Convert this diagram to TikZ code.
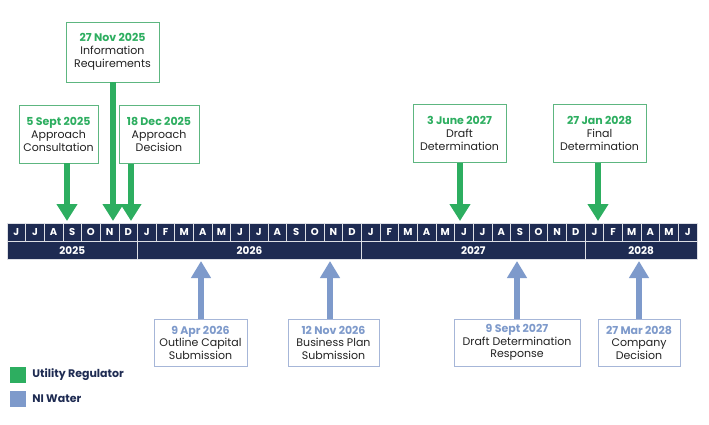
\documentclass[tikz,border=0pt]{standalone}
\usepackage{fontspec}
\setmainfont{Poppins}
\usepackage{xcolor}
\usepackage{tikz}
\usetikzlibrary{arrows.meta, positioning}

\definecolor{navy}{HTML}{1E2B52}
\definecolor{urgreen}{HTML}{2DAE60}
\definecolor{urline}{HTML}{5DB680}
\definecolor{niblue}{HTML}{7E9ACB}
\definecolor{niline}{HTML}{A6B6D8}
\definecolor{boxtext}{HTML}{222222}

\newcommand{\urdate}[1]{\textcolor{urgreen}{\textbf{#1}}}
\newcommand{\niwdate}[1]{\textcolor{niblue}{\textbf{#1}}}

\begin{document}
\begin{tikzpicture}[
    x=1pt, y=-1pt,
    box/.style={rectangle, draw, line width=0.9pt, fill=white,
                align=center, inner sep=0pt, text=boxtext,
                font=\fontsize{11}{13}\selectfont},
    urbox/.style={box, draw=urline, minimum height=58pt},
    nibox/.style={box, draw=niline, minimum height=47pt,
                  font=\fontsize{11}{12.5}\selectfont},
    month/.style={rectangle, fill=navy, draw=white!85!navy, line width=0.8pt,
                  minimum width=18.65pt, minimum height=18.5pt, inner sep=0pt,
                  text=white, font=\fontsize{10}{10}\selectfont\bfseries},
    year/.style={month, font=\fontsize{10.5}{10.5}\selectfont\bfseries},
    urarrow/.style={-{Triangle[width=20pt,length=17pt]}, line width=6.5pt, urgreen},
    niarrow/.style={-{Triangle[width=19pt,length=17pt]}, line width=6.5pt, niblue},
    legendsq/.style={rectangle, minimum size=16pt, inner sep=0pt},
    legendlab/.style={inner sep=0pt, text=navy, font=\fontsize{11}{11}\selectfont\bfseries},
]
\useasboundingbox (0,0) rectangle (709,425);

% ── Month row  y=232 : Jul 2025 .. Jun 2028, 37 cells ──────────────
\foreach \l [count=\i] in {J,J,A,S,O,N,D,
                           J,F,M,A,M,J,J,A,S,O,N,D,
                           J,F,M,A,M,J,J,A,S,O,N,D,
                           J,F,M,A,M,J}
  \node[month] (m\i) at ({7+(\i-0.5)*18.65}, 232.25) {\l};

% ── Year row  y=250 ────────────────────────────────────────────────
\node[year, minimum width=130.55pt] (y2025) at (72.28, 250.25)  {2025};
\node[year, minimum width=223.8pt]  (y2026) at (249.45, 250.25) {2026};
\node[year, minimum width=223.8pt]  (y2027) at (473.25, 250.25) {2027};
\node[year, minimum width=111.9pt]  (y2028) at (641.1, 250.25)  {2028};

% ── Arrow tips on the bar ──────────────────────────────────────────
\coordinate (tconsult) at (67, 221);
\coordinate (tinfo)    at (113, 221);
\coordinate (tdecide)  at (131, 221);
\coordinate (tdraft)   at (460, 221);
\coordinate (tfinal)   at (598, 221);
\coordinate (tcapital) at (201, 261);
\coordinate (tplan)    at (330, 261);
\coordinate (tresp)    at (517, 261);
\coordinate (tcompany) at (639, 261);

% ── Utility Regulator milestones (above) ───────────────────────────
\node[urbox, minimum width=79pt] (consult) at (58.5, 134)
     {\urdate{5 Sept 2025}\\Approach\\Consultation};
\node[urbox, minimum width=93pt, minimum height=60pt] (info) at (112.5, 52)
     {\urdate{27 Nov 2025}\\Information\\Requirements};
\node[urbox, minimum width=80pt] (decide) at (159, 134.5)
     {\urdate{18 Dec 2025}\\Approach\\Decision};
\node[urbox, minimum width=93pt] (draft) at (459.5, 133.5)
     {\urdate{3 June 2027}\\Draft\\Determination};
\node[urbox, minimum width=93pt] (final) at (599.5, 133.5)
     {\urdate{27 Jan 2028}\\Final\\Determination};

% ── NI Water milestones (below) ────────────────────────────────────
\node[nibox, minimum width=93pt]  (capital) at (200.5, 342.5)
     {\niwdate{9 Apr 2026}\\Outline Capital\\Submission};
\node[nibox, minimum width=91pt]  (plan) at (333.5, 342.5)
     {\niwdate{12 Nov 2026}\\Business Plan\\Submission};
\node[nibox, minimum width=126pt] (resp) at (517, 342.5)
     {\niwdate{9 Sept 2027}\\Draft Determination\\Response};
\node[nibox, minimum width=82pt]  (company) at (639, 342.5)
     {\niwdate{27 Mar 2028}\\Company\\Decision};

% ── Arrows ─────────────────────────────────────────────────────────
\draw[urarrow] (tconsult |- consult.south) -- (tconsult);
\draw[urarrow] (tinfo |- info.south)       -- (tinfo);
\draw[urarrow] (tdecide |- decide.south)   -- (tdecide);
\draw[urarrow] (tdraft |- draft.south)     -- (tdraft);
\draw[urarrow] (tfinal |- final.south)     -- (tfinal);

\draw[niarrow] (tcapital |- capital.north) -- (tcapital);
\draw[niarrow] (tplan |- plan.north)       -- (tplan);
\draw[niarrow] (tresp |- resp.north)       -- (tresp);
\draw[niarrow] (tcompany |- company.north) -- (tcompany);

% ── Legend ─────────────────────────────────────────────────────────
\node[legendsq, fill=urgreen] (ursq) at (18, 375) {};
\node[legendlab, right=6pt of ursq] (urlab) {Utility Regulator};
\node[legendsq, fill=niblue]  (nisq) at (18, 399) {};
\node[legendlab, right=6pt of nisq] (nilab) {NI Water};

\end{tikzpicture}
\end{document}
